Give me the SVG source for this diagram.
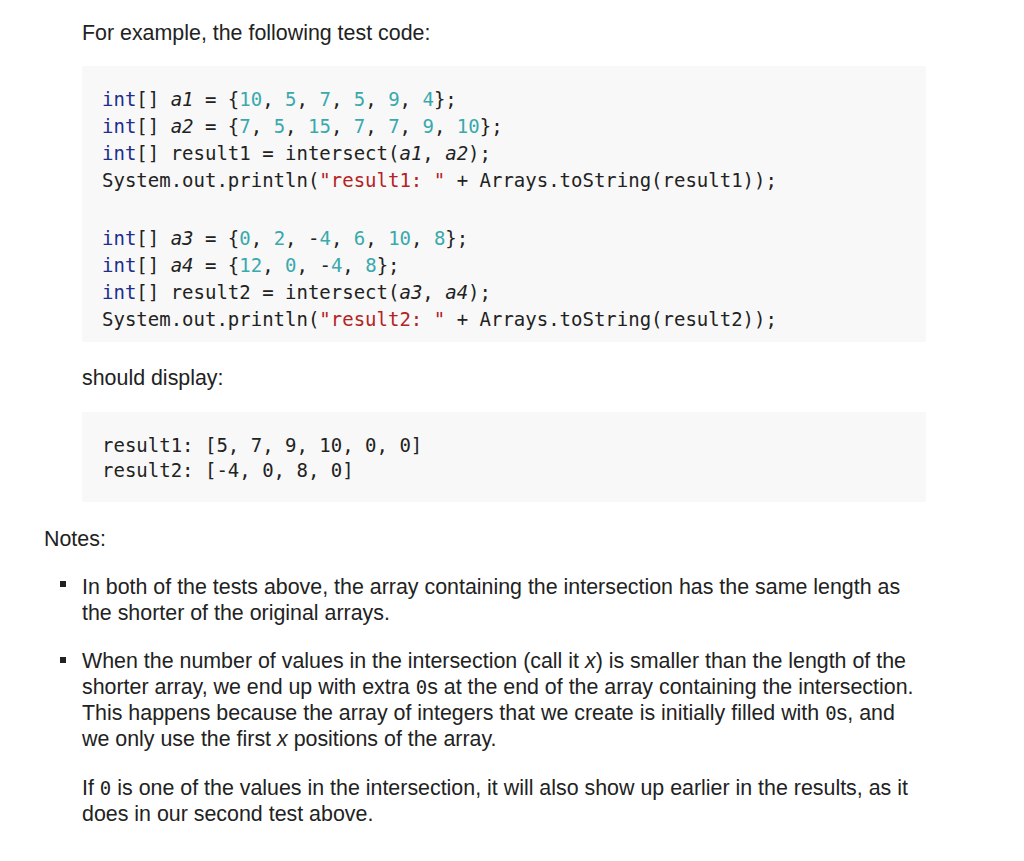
<svg xmlns="http://www.w3.org/2000/svg" width="1024" height="861" viewBox="0 0 1024 861">
<style>
.t{font-family:"Liberation Sans",Arial,sans-serif;font-size:21.4px;fill:#222}
.c{font-family:"DejaVu Sans Mono",monospace;font-size:19px;fill:#222;white-space:pre}
.k{fill:#1c2f8c}.n{fill:#3aa9ad}.s{fill:#b42323}.v{font-style:italic}
.m{font-family:"DejaVu Sans Mono",monospace;font-size:19px}
.box{fill:#f8f8f8}
</style>
<rect width="1024" height="861" fill="#fff"/>
<text class="t" x="82" y="40">For example, the following test code:</text>
<rect class="box" x="82" y="66" width="844" height="276"/>
<g class="c" xml:space="preserve">
<text x="102" y="106"><tspan class="k">int</tspan>[] <tspan class="v">a1</tspan> = {<tspan class="n">10</tspan>, <tspan class="n">5</tspan>, <tspan class="n">7</tspan>, <tspan class="n">5</tspan>, <tspan class="n">9</tspan>, <tspan class="n">4</tspan>};</text>
<text x="102" y="133"><tspan class="k">int</tspan>[] <tspan class="v">a2</tspan> = {<tspan class="n">7</tspan>, <tspan class="n">5</tspan>, <tspan class="n">15</tspan>, <tspan class="n">7</tspan>, <tspan class="n">7</tspan>, <tspan class="n">9</tspan>, <tspan class="n">10</tspan>};</text>
<text x="102" y="160"><tspan class="k">int</tspan>[] result1 = intersect(<tspan class="v">a1</tspan>, <tspan class="v">a2</tspan>);</text>
<text x="102" y="187">System.out.println(<tspan class="s">"result1: "</tspan> + Arrays.toString(result1));</text>
<text x="102" y="245"><tspan class="k">int</tspan>[] <tspan class="v">a3</tspan> = {<tspan class="n">0</tspan>, <tspan class="n">2</tspan>, -<tspan class="n">4</tspan>, <tspan class="n">6</tspan>, <tspan class="n">10</tspan>, <tspan class="n">8</tspan>};</text>
<text x="102" y="272"><tspan class="k">int</tspan>[] <tspan class="v">a4</tspan> = {<tspan class="n">12</tspan>, <tspan class="n">0</tspan>, -<tspan class="n">4</tspan>, <tspan class="n">8</tspan>};</text>
<text x="102" y="299"><tspan class="k">int</tspan>[] result2 = intersect(<tspan class="v">a3</tspan>, <tspan class="v">a4</tspan>);</text>
<text x="102" y="326">System.out.println(<tspan class="s">"result2: "</tspan> + Arrays.toString(result2));</text>
</g>
<text class="t" x="82" y="385">should display:</text>
<rect class="box" x="82" y="412" width="844" height="90"/>
<g class="c" xml:space="preserve">
<text x="102" y="452">result1: [5, 7, 9, 10, 0, 0]</text>
<text x="102" y="477">result2: [-4, 0, 8, 0]</text>
</g>
<text class="t" x="44" y="546">Notes:</text>
<rect x="60" y="581" width="6" height="6" fill="#222"/>
<rect x="60" y="657" width="6" height="6" fill="#222"/>
<text class="t" x="82" y="594">In both of the tests above, the array containing the intersection has the same length as</text>
<text class="t" x="82" y="620">the shorter of the original arrays.</text>
<text class="t" x="82" y="668">When the number of values in the intersection (call it <tspan font-style="italic">x</tspan>) is smaller than the length of the</text>
<text class="t" x="82" y="694">shorter array, we end up with extra <tspan class="m">0</tspan>s at the end of the array containing the intersection.</text>
<text class="t" x="82" y="720">This happens because the array of integers that we create is initially filled with <tspan class="m">0</tspan>s, and</text>
<text class="t" x="82" y="746">we only use the first <tspan font-style="italic">x</tspan> positions of the array.</text>
<text class="t" x="82" y="795">If <tspan class="m">0</tspan> is one of the values in the intersection, it will also show up earlier in the results, as it</text>
<text class="t" x="82" y="821">does in our second test above.</text>
</svg>
